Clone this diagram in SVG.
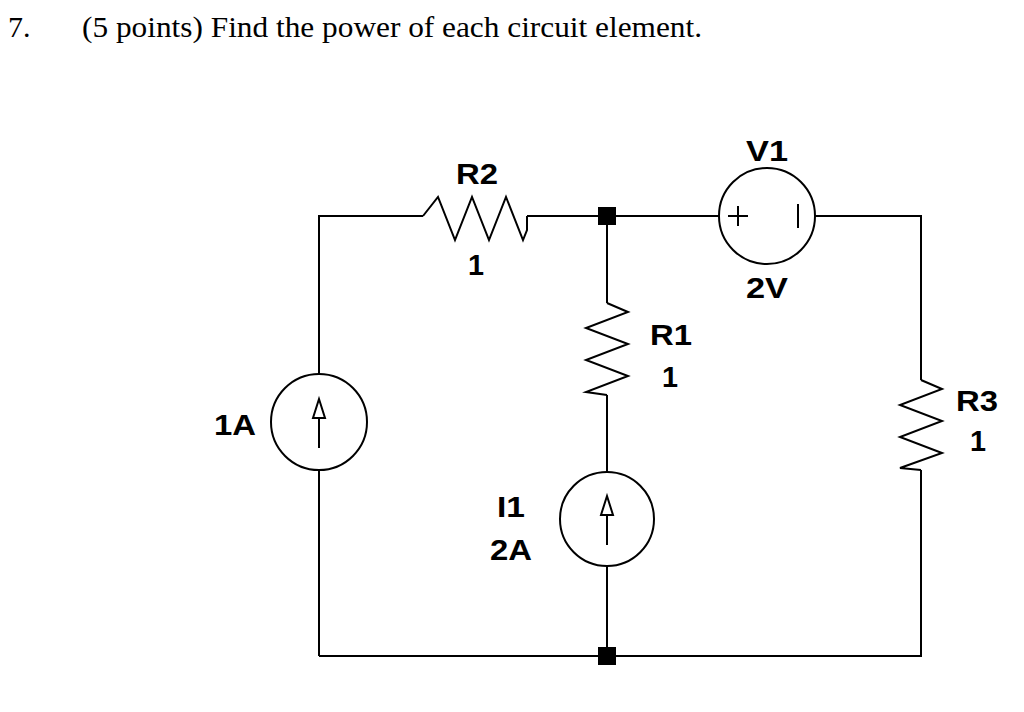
<svg xmlns="http://www.w3.org/2000/svg" width="1024" height="712" viewBox="0 0 1024 712">
<style>
.w{fill:none;stroke:#000;stroke-width:2}
.l{font-family:"Liberation Sans",Arial,sans-serif;font-weight:bold;font-size:30px}
.t{font-family:"Liberation Serif","Times New Roman",serif;font-size:30px}
</style>
<rect width="1024" height="712" fill="#fff"/>
<text class="t" x="8" y="37">7.</text>
<text class="t" x="82" y="37" textLength="620" lengthAdjust="spacingAndGlyphs">(5 points)  Find the power of each circuit element.</text>
<g id="connectors" class="w">
<polyline points="423,216 319,216 319,374"/>
<line x1="319" y1="470" x2="319" y2="656"/>
<polyline points="319,656 921,656 921,470"/>
<polyline points="921,380 921,216 815,216"/>
<line x1="527" y1="216" x2="719" y2="216"/>
<line x1="607" y1="216" x2="607" y2="303"/>
<line x1="607" y1="395" x2="607" y2="472"/>
<line x1="607" y1="566" x2="607" y2="656"/>
</g>
<g id="R2"><polyline class="w" points="423,216 438,197 455,240 472,197 489,240 506,197 523,240 527,230 527,216"/>
<text class="l" x="456" y="184" textLength="42" lengthAdjust="spacingAndGlyphs">R2</text><text class="l" x="468" y="275" textLength="16" lengthAdjust="spacingAndGlyphs">1</text></g>
<g id="R1"><polyline class="w" points="607,303 628,312 586,328 628,344 586,360 628,376 586,392 607,395"/>
<text class="l" x="650" y="345" textLength="42" lengthAdjust="spacingAndGlyphs">R1</text><text class="l" x="662" y="387" textLength="16" lengthAdjust="spacingAndGlyphs">1</text></g>
<g id="R3"><polyline class="w" points="921,380 942,389 900,405 942,421 900,437 942,453 900,468 921,470"/>
<text class="l" x="956" y="411" textLength="42" lengthAdjust="spacingAndGlyphs">R3</text><text class="l" x="970" y="451" textLength="16" lengthAdjust="spacingAndGlyphs">1</text></g>
<g id="V1"><circle class="w" cx="767" cy="216" r="48"/>
<path class="w" d="M728,216h20M738,206v20M798,204v24"/>
<text class="l" x="746" y="161" textLength="42" lengthAdjust="spacingAndGlyphs">V1</text><text class="l" x="746" y="298" textLength="42" lengthAdjust="spacingAndGlyphs">2V</text></g>
<g id="I_left"><circle class="w" cx="319" cy="422" r="48"/>
<path class="w" d="M319,448V418M313,418h12l-6,-19z"/>
<text class="l" x="214" y="435" textLength="42" lengthAdjust="spacingAndGlyphs">1A</text></g>
<g id="I1"><circle class="w" cx="607" cy="519" r="47"/>
<path class="w" d="M607,545V515M601,515h12l-6,-19z"/>
<text class="l" x="497" y="517" textLength="28" lengthAdjust="spacingAndGlyphs">I1</text><text class="l" x="490" y="560" textLength="42" lengthAdjust="spacingAndGlyphs">2A</text></g>
<g id="nodes"><rect x="598" y="207" width="18" height="18"/><rect x="598" y="647" width="18" height="18"/></g>
</svg>
